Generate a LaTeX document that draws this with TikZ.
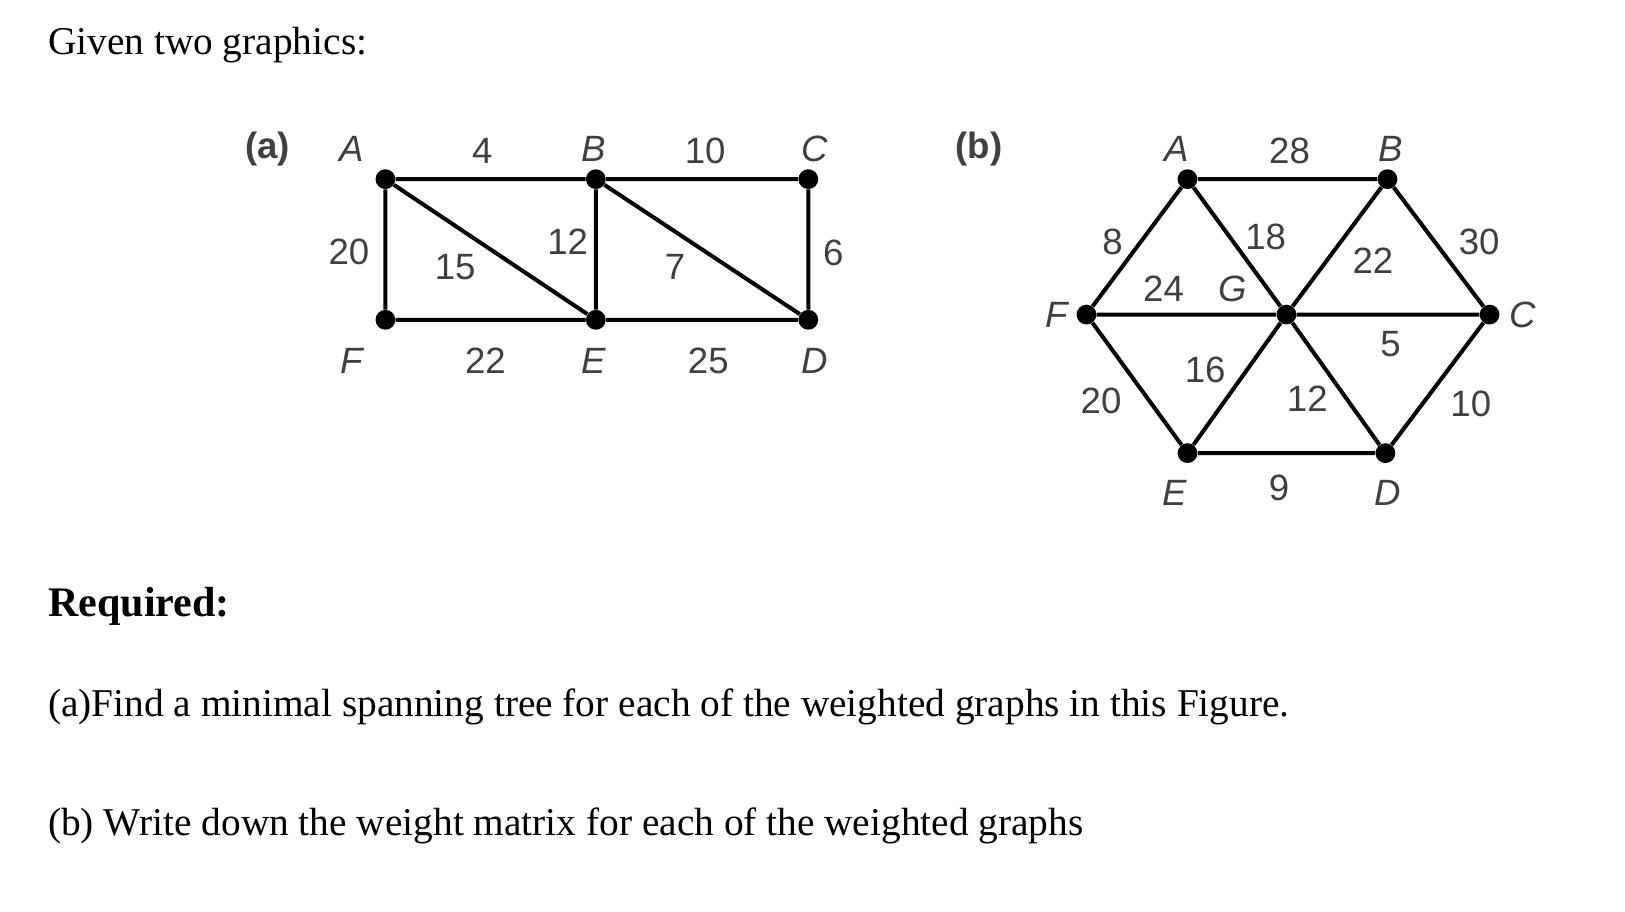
\documentclass[tikz,border=0pt]{standalone}
\usepackage{fontspec}
\setmainfont{Liberation Serif}
\newfontfamily\lab{Liberation Sans}
\begin{document}
\begin{tikzpicture}[x=0.02cm,y=-0.02cm,
  vtx/.style={circle,fill=black,inner sep=0pt,minimum size=0.38cm},
  edge/.style={line width=2.2pt},
  lbl/.style={font=\lab\fontsize{20}{22}\selectfont\itshape,text=black!75},
  num/.style={font=\lab\fontsize{20}{22}\selectfont,text=black!75},
  body/.style={anchor=base west,font=\fontsize{21.5}{24}\selectfont}]
\useasboundingbox (0,0) rectangle (1560,875);
\node[body] (t1) at (40,52) {Given two graphics:};
\node[body,font=\fontsize{23}{26}\selectfont\bfseries] (t2) at (40,592) {Required:};
\node[body] (t3) at (40,688) {(a)Find a minimal spanning tree for each of the weighted graphs in this Figure.};
\node[body] (t4) at (40,802) {(b) Write down the weight matrix for each of the weighted graphs};
% graph a
\node[vtx] (aA) at (370,172) {}; \node[vtx] (aB) at (572,172) {}; \node[vtx] (aC) at (776,172) {};
\node[vtx] (aF) at (370,307) {}; \node[vtx] (aE) at (572,307) {}; \node[vtx] (aD) at (776,307) {};
\draw[edge] (aA)--(aB)--(aC)--(aD)--(aE)--(aF)--(aA) (aA)--(aE)--(aB)--(aD);
\node[num,font=\lab\fontsize{20}{22}\selectfont\bfseries] (la) at (257,143) {(a)};
\node[lbl] (lA) at (338,143) {A}; \node[num] (w4) at (463,145) {4}; \node[lbl] (lB) at (570,143) {B};
\node[num] (w10) at (677,145) {10}; \node[lbl] (lC) at (782,143) {C};
\node[num] (w20) at (335,242) {20}; \node[num] (w15) at (437,256) {15}; \node[num] (w12) at (545,232) {12};
\node[num] (w7) at (648,256) {7}; \node[num] (w6) at (800,243) {6};
\node[lbl] (lF) at (338,346) {F}; \node[num] (w22) at (466,346) {22}; \node[lbl] (lE) at (570,346) {E};
\node[num] (w25) at (680,346) {25}; \node[lbl] (lD) at (782,346) {D};
% graph b
\node[vtx] (bA) at (1140,172) {}; \node[vtx] (bB) at (1332,172) {};
\node[vtx] (bF) at (1043,302) {}; \node[vtx] (bG) at (1235,302) {}; \node[vtx] (bC) at (1430,302) {};
\node[vtx] (bE) at (1140,435) {}; \node[vtx] (bD) at (1330,435) {};
\draw[edge] (bA)--(bB)--(bC)--(bD)--(bE)--(bF)--(bA) (bA)--(bG)--(bD) (bB)--(bG)--(bE) (bF)--(bG)--(bC);
\node[num,font=\lab\fontsize{20}{22}\selectfont\bfseries] (lb) at (940,143) {(b)};
\node[lbl] (mA) at (1130,143) {A}; \node[num] (v28) at (1238,145) {28}; \node[lbl] (mB) at (1335,143) {B};
\node[num] (v8) at (1068,232) {8}; \node[num] (v18) at (1215,227) {18}; \node[num] (v22) at (1318,250) {22};
\node[num] (v30) at (1420,232) {30}; \node[num] (v24) at (1117,277) {24}; \node[lbl] (mG) at (1183,277) {G};
\node[lbl] (mF) at (1014,302) {F}; \node[lbl] (mC) at (1462,302) {C}; \node[num] (v5) at (1335,330) {5};
\node[num] (v16) at (1157,355) {16}; \node[num] (v20) at (1057,385) {20}; \node[num] (v12) at (1255,383) {12};
\node[num] (v10) at (1412,388) {10}; \node[lbl] (mE) at (1128,473) {E}; \node[num] (v9) at (1228,468) {9};
\node[lbl] (mD) at (1332,473) {D};
\end{tikzpicture}
\end{document}
